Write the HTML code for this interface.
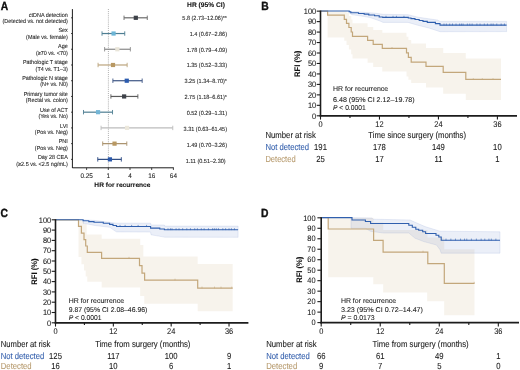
<!DOCTYPE html>
<html><head><meta charset="utf-8"><style>
html,body{margin:0;padding:0;background:#fff;}
svg{display:block;will-change:transform;text-rendering:geometricPrecision;font-family:"Liberation Sans", sans-serif;}
</style></head><body>
<svg width="520" height="370" viewBox="0 0 520 370">
<rect width="520" height="370" fill="#fff"/>
<text transform="translate(0.70,9.50) scale(1.0000,1.1500)" font-size="10.3" font-weight="bold" fill="#111" stroke="#111" stroke-width="0.350" >A</text>
<text transform="translate(261.20,9.70) scale(1.0000,1.1500)" font-size="10.3" font-weight="bold" fill="#111" stroke="#111" stroke-width="0.350" >B</text>
<text transform="translate(0.60,216.90) scale(1.0000,1.1500)" font-size="10.3" font-weight="bold" fill="#111" stroke="#111" stroke-width="0.350" >C</text>
<text transform="translate(261.10,216.90) scale(1.0000,1.1500)" font-size="10.3" font-weight="bold" fill="#111" stroke="#111" stroke-width="0.350" >D</text>
<line x1="108.4" y1="9.0" x2="108.4" y2="167.5" stroke="#9a9a9a" stroke-width="0.8" stroke-dasharray="1,1.1"/>
<line x1="72.4" y1="9.1" x2="72.4" y2="168.0" stroke="#1c1c1c" stroke-width="1" />
<line x1="72.4" y1="167.8" x2="173.8" y2="167.8" stroke="#1c1c1c" stroke-width="1" />
<line x1="86.6" y1="167.8" x2="86.6" y2="170" stroke="#1c1c1c" stroke-width="0.8" />
<text transform="translate(86.60,177.90) scale(1.0000,1.0500)" font-size="6.4" text-anchor="middle" fill="#222" stroke="#222" stroke-width="0.080" >0.25</text>
<line x1="108.3" y1="167.8" x2="108.3" y2="170" stroke="#1c1c1c" stroke-width="0.8" />
<text transform="translate(108.30,177.90) scale(1.0000,1.0500)" font-size="6.4" text-anchor="middle" fill="#222" stroke="#222" stroke-width="0.080" >1</text>
<line x1="130.0" y1="167.8" x2="130.0" y2="170" stroke="#1c1c1c" stroke-width="0.8" />
<text transform="translate(130.00,177.90) scale(1.0000,1.0500)" font-size="6.4" text-anchor="middle" fill="#222" stroke="#222" stroke-width="0.080" >4</text>
<line x1="151.7" y1="167.8" x2="151.7" y2="170" stroke="#1c1c1c" stroke-width="0.8" />
<text transform="translate(151.70,177.90) scale(1.0000,1.0500)" font-size="6.4" text-anchor="middle" fill="#222" stroke="#222" stroke-width="0.080" >16</text>
<line x1="173.39999999999998" y1="167.8" x2="173.39999999999998" y2="170" stroke="#1c1c1c" stroke-width="0.8" />
<text transform="translate(173.40,177.90) scale(1.0000,1.0500)" font-size="6.4" text-anchor="middle" fill="#222" stroke="#222" stroke-width="0.080" >64</text>
<text transform="translate(122.40,186.80) scale(1.0000,1.0000)" font-size="6.6" text-anchor="middle" font-weight="bold" fill="#111" stroke="#111" stroke-width="0.080" >HR for recurrence</text>
<text transform="translate(206.00,7.40) scale(1.0000,1.0000)" font-size="6.7" text-anchor="middle" font-weight="bold" fill="#111" stroke="#111" stroke-width="0.080" >HR (95% CI)</text>
<line x1="71.0" y1="17.8" x2="72.4" y2="17.8" stroke="#1c1c1c" stroke-width="0.8" />
<text transform="translate(67.80,16.50) scale(1.0000,1.0800)" font-size="5.45" text-anchor="end" fill="#222" stroke="#222" stroke-width="0.080" >ctDNA detection</text>
<text transform="translate(67.80,22.90) scale(1.0000,1.0800)" font-size="5.45" text-anchor="end" fill="#222" stroke="#222" stroke-width="0.080" >(Detected vs. not detected)</text>
<line x1="124.02057531992463" y1="17.8" x2="147.27491432306016" y2="17.8" stroke="#6a6a6a" stroke-width="1.2" />
<line x1="124.02057531992463" y1="15.600000000000001" x2="124.02057531992463" y2="20.0" stroke="#6a6a6a" stroke-width="0.9" />
<line x1="147.27491432306016" y1="15.600000000000001" x2="147.27491432306016" y2="20.0" stroke="#6a6a6a" stroke-width="0.9" />
<rect x="133.72" y="15.70" width="4.2" height="4.2" fill="#3e4249"/>
<text transform="translate(227.00,19.85) scale(1.0000,1.0800)" font-size="5.5" text-anchor="end" fill="#222" stroke="#222" stroke-width="0.080" >5.8 (2.73–12.06)**</text>
<line x1="71.0" y1="33.53" x2="72.4" y2="33.53" stroke="#1c1c1c" stroke-width="0.8" />
<text transform="translate(67.80,32.37) scale(1.0000,1.0800)" font-size="5.45" text-anchor="end" fill="#222" stroke="#222" stroke-width="0.080" >Sex</text>
<text transform="translate(67.80,38.77) scale(1.0000,1.0800)" font-size="5.45" text-anchor="end" fill="#222" stroke="#222" stroke-width="0.080" >(Male vs. female)</text>
<line x1="102.03122805741107" y1="33.53" x2="124.74876434498975" y2="33.53" stroke="#4e7e92" stroke-width="1.2" />
<line x1="102.03122805741107" y1="31.330000000000002" x2="102.03122805741107" y2="35.730000000000004" stroke="#4e7e92" stroke-width="0.9" />
<line x1="124.74876434498975" y1="31.330000000000002" x2="124.74876434498975" y2="35.730000000000004" stroke="#4e7e92" stroke-width="0.9" />
<rect x="111.47" y="31.43" width="4.2" height="4.2" fill="#6cb5d6"/>
<text transform="translate(227.00,35.73) scale(1.0000,1.0800)" font-size="5.5" text-anchor="end" fill="#222" stroke="#222" stroke-width="0.080" >1.4 (0.67–2.86)</text>
<line x1="71.0" y1="49.260000000000005" x2="72.4" y2="49.260000000000005" stroke="#1c1c1c" stroke-width="0.8" />
<text transform="translate(67.80,48.24) scale(1.0000,1.0800)" font-size="5.45" text-anchor="end" fill="#222" stroke="#222" stroke-width="0.080" >Age</text>
<text transform="translate(67.80,54.64) scale(1.0000,1.0800)" font-size="5.45" text-anchor="end" fill="#222" stroke="#222" stroke-width="0.080" >(≥70 vs. &lt;70)</text>
<line x1="104.6101814586658" y1="49.260000000000005" x2="130.3482941483622" y2="49.260000000000005" stroke="#8a8a8a" stroke-width="1.2" />
<line x1="104.6101814586658" y1="47.06" x2="104.6101814586658" y2="51.46000000000001" stroke="#8a8a8a" stroke-width="0.9" />
<line x1="130.3482941483622" y1="47.06" x2="130.3482941483622" y2="51.46000000000001" stroke="#8a8a8a" stroke-width="0.9" />
<rect x="115.23" y="47.16" width="4.2" height="4.2" fill="#e9e5d9"/>
<text transform="translate(227.00,51.61) scale(1.0000,1.0800)" font-size="5.5" text-anchor="end" fill="#222" stroke="#222" stroke-width="0.080" >1.78 (0.79–4.09)</text>
<line x1="71.0" y1="64.99" x2="72.4" y2="64.99" stroke="#1c1c1c" stroke-width="0.8" />
<text transform="translate(67.80,64.11) scale(1.0000,1.0800)" font-size="5.45" text-anchor="end" fill="#222" stroke="#222" stroke-width="0.080" >Pathologic T stage</text>
<text transform="translate(67.80,70.51) scale(1.0000,1.0800)" font-size="5.45" text-anchor="end" fill="#222" stroke="#222" stroke-width="0.080" >(T4 vs. T1–3)</text>
<line x1="98.06393128277509" y1="64.99" x2="127.13041562366743" y2="64.99" stroke="#bba47c" stroke-width="1.2" />
<line x1="98.06393128277509" y1="62.78999999999999" x2="98.06393128277509" y2="67.19" stroke="#bba47c" stroke-width="0.9" />
<line x1="127.13041562366743" y1="62.78999999999999" x2="127.13041562366743" y2="67.19" stroke="#bba47c" stroke-width="0.9" />
<rect x="110.90" y="62.89" width="4.2" height="4.2" fill="#b89862"/>
<text transform="translate(227.00,67.49) scale(1.0000,1.0800)" font-size="5.5" text-anchor="end" fill="#222" stroke="#222" stroke-width="0.080" >1.35 (0.52–3.33)</text>
<line x1="71.0" y1="80.72" x2="72.4" y2="80.72" stroke="#1c1c1c" stroke-width="0.8" />
<text transform="translate(67.80,79.98) scale(1.0000,1.0800)" font-size="5.45" text-anchor="end" fill="#222" stroke="#222" stroke-width="0.080" >Pathologic N stage</text>
<text transform="translate(67.80,86.38) scale(1.0000,1.0800)" font-size="5.45" text-anchor="end" fill="#222" stroke="#222" stroke-width="0.080" >(N+ vs. N0)</text>
<line x1="112.88122805741106" y1="80.72" x2="142.1630171004308" y2="80.72" stroke="#3e5684" stroke-width="1.2" />
<line x1="112.88122805741106" y1="78.52" x2="112.88122805741106" y2="82.92" stroke="#3e5684" stroke-width="0.9" />
<line x1="142.1630171004308" y1="78.52" x2="142.1630171004308" y2="82.92" stroke="#3e5684" stroke-width="0.9" />
<rect x="124.65" y="78.62" width="4.2" height="4.2" fill="#2c5caf"/>
<text transform="translate(227.00,83.37) scale(1.0000,1.0800)" font-size="5.5" text-anchor="end" fill="#222" stroke="#222" stroke-width="0.080" >3.25 (1.34–8.70)*</text>
<line x1="71.0" y1="96.45" x2="72.4" y2="96.45" stroke="#1c1c1c" stroke-width="0.8" />
<text transform="translate(67.80,95.85) scale(1.0000,1.0800)" font-size="5.45" text-anchor="end" fill="#222" stroke="#222" stroke-width="0.080" >Primary tumor site</text>
<text transform="translate(67.80,102.25) scale(1.0000,1.0800)" font-size="5.45" text-anchor="end" fill="#222" stroke="#222" stroke-width="0.080" >(Rectal vs. colon)</text>
<line x1="110.8908374265202" y1="96.45" x2="137.86245544830268" y2="96.45" stroke="#5a5a5a" stroke-width="1.2" />
<line x1="110.8908374265202" y1="94.25" x2="110.8908374265202" y2="98.65" stroke="#5a5a5a" stroke-width="0.9" />
<line x1="137.86245544830268" y1="94.25" x2="137.86245544830268" y2="98.65" stroke="#5a5a5a" stroke-width="0.9" />
<rect x="122.03" y="94.35" width="4.2" height="4.2" fill="#3e4249"/>
<text transform="translate(227.00,99.25) scale(1.0000,1.0800)" font-size="5.5" text-anchor="end" fill="#222" stroke="#222" stroke-width="0.080" >2.75 (1.18–6.61)*</text>
<line x1="71.0" y1="112.17999999999999" x2="72.4" y2="112.17999999999999" stroke="#1c1c1c" stroke-width="0.8" />
<text transform="translate(67.80,111.72) scale(1.0000,1.0800)" font-size="5.45" text-anchor="end" fill="#222" stroke="#222" stroke-width="0.080" >Use of ACT</text>
<text transform="translate(67.80,118.12) scale(1.0000,1.0800)" font-size="5.45" text-anchor="end" fill="#222" stroke="#222" stroke-width="0.080" >(Yes vs. No)</text>
<line x1="83.49359959105044" y1="112.17999999999999" x2="112.52679990762557" y2="112.17999999999999" stroke="#4e7e92" stroke-width="1.2" />
<line x1="83.49359959105044" y1="109.97999999999999" x2="83.49359959105044" y2="114.38" stroke="#4e7e92" stroke-width="0.9" />
<line x1="112.52679990762557" y1="109.97999999999999" x2="112.52679990762557" y2="114.38" stroke="#4e7e92" stroke-width="0.9" />
<rect x="95.96" y="110.08" width="4.2" height="4.2" fill="#74b6d6"/>
<text transform="translate(227.00,115.13) scale(1.0000,1.0800)" font-size="5.5" text-anchor="end" fill="#222" stroke="#222" stroke-width="0.080" >0.52 (0.29–1.31)</text>
<line x1="71.0" y1="127.91" x2="72.4" y2="127.91" stroke="#1c1c1c" stroke-width="0.8" />
<text transform="translate(67.80,127.59) scale(1.0000,1.0800)" font-size="5.45" text-anchor="end" fill="#222" stroke="#222" stroke-width="0.080" >LVI</text>
<text transform="translate(67.80,133.99) scale(1.0000,1.0800)" font-size="5.45" text-anchor="end" fill="#222" stroke="#222" stroke-width="0.080" >(Pos vs. Neg)</text>
<line x1="101.06764751091833" y1="127.91" x2="172.76355099451547" y2="127.91" stroke="#bcbcbc" stroke-width="1.2" />
<line x1="101.06764751091833" y1="125.71" x2="101.06764751091833" y2="130.10999999999999" stroke="#bcbcbc" stroke-width="0.9" />
<line x1="172.76355099451547" y1="125.71" x2="172.76355099451547" y2="130.10999999999999" stroke="#bcbcbc" stroke-width="0.9" />
<rect x="124.94" y="125.81" width="4.2" height="4.2" fill="#ece8dc"/>
<text transform="translate(227.00,131.01) scale(1.0000,1.0800)" font-size="5.5" text-anchor="end" fill="#222" stroke="#222" stroke-width="0.080" >3.31 (0.63–61.45)</text>
<line x1="71.0" y1="143.64000000000001" x2="72.4" y2="143.64000000000001" stroke="#1c1c1c" stroke-width="0.8" />
<text transform="translate(67.80,143.46) scale(1.0000,1.0800)" font-size="5.45" text-anchor="end" fill="#222" stroke="#222" stroke-width="0.080" >PNI</text>
<text transform="translate(67.80,149.86) scale(1.0000,1.0800)" font-size="5.45" text-anchor="end" fill="#222" stroke="#222" stroke-width="0.080" >(Pos vs. Neg)</text>
<line x1="102.71688107479712" y1="143.64000000000001" x2="126.79786081435142" y2="143.64000000000001" stroke="#a8906a" stroke-width="1.2" />
<line x1="102.71688107479712" y1="141.44000000000003" x2="102.71688107479712" y2="145.84" stroke="#a8906a" stroke-width="0.9" />
<line x1="126.79786081435142" y1="141.44000000000003" x2="126.79786081435142" y2="145.84" stroke="#a8906a" stroke-width="0.9" />
<rect x="112.44" y="141.54" width="4.2" height="4.2" fill="#b89862"/>
<text transform="translate(227.00,146.89) scale(1.0000,1.0800)" font-size="5.5" text-anchor="end" fill="#222" stroke="#222" stroke-width="0.080" >1.49 (0.70–3.26)</text>
<line x1="71.0" y1="159.37" x2="72.4" y2="159.37" stroke="#1c1c1c" stroke-width="0.8" />
<text transform="translate(67.80,159.33) scale(1.0000,1.0800)" font-size="5.45" text-anchor="end" fill="#222" stroke="#222" stroke-width="0.080" >Day 28 CEA</text>
<text transform="translate(67.80,165.73) scale(1.0000,1.0800)" font-size="5.45" text-anchor="end" fill="#222" stroke="#222" stroke-width="0.080" >(≥2.5 vs. &lt;2.5 ng/mL)</text>
<line x1="97.75997530133496" y1="159.37" x2="121.3377273936907" y2="159.37" stroke="#2c4a82" stroke-width="1.2" />
<line x1="97.75997530133496" y1="157.17000000000002" x2="97.75997530133496" y2="161.57" stroke="#2c4a82" stroke-width="0.9" />
<line x1="121.3377273936907" y1="157.17000000000002" x2="121.3377273936907" y2="161.57" stroke="#2c4a82" stroke-width="0.9" />
<rect x="107.83" y="157.27" width="4.2" height="4.2" fill="#2a58aa"/>
<text transform="translate(225.60,162.77) scale(1.0000,1.0800)" font-size="5.5" text-anchor="end" fill="#222" stroke="#222" stroke-width="0.080" >1.11 (0.51–2.30)</text>
<path d="M327.6,11.15 H344.3 V11.15 H346.5 V12.5 H348.9 V16 H351.2 V19.5 H352.5 V23.2 H367.6 V27.0 H373.2 V30.0 H382.3 V32.8 H406.5 V36.8 H408.4 V40.0 H411.2 V43.5 H426.0 V48.0 H443.2 V53.0 H465.8 V58.4 H501.0 V58.4 H501.0 V100.0 L501.0,100.0 L501.0,100.0 L501.0,100.0 L465.8,100.0 L465.8,93.8 L443.2,93.8 L443.2,87.5 L426.0,87.5 L426.0,83.1 L411.2,83.1 L411.2,79.7 L408.4,79.7 L408.4,76.4 L406.5,76.4 L406.5,71.6 L382.3,71.6 L382.3,66.9 L373.2,66.9 L373.2,62.8 L367.6,62.8 L367.6,58.6 L352.5,58.6 L352.5,54.3 L351.2,54.3 L351.2,49.6 L348.9,49.6 L348.9,44.9 L346.5,44.9 L346.5,40.8 L344.3,40.8 L344.3,37.4 L327.6,37.4 Z" stroke="none" fill="rgba(214,196,160,0.20)" stroke-width="1" />
<path d="M349,11.0 L352,11.5 L360,12.0 L375,13.2 L383,14.3 L408,14.7 L418,17.2 L437.7,20.1 L440,21.4 L506.6,21.4 L506.6,31.6 L440,31.7 L429.6,28.2 L418,25.3 L408,22.4 L383,22.4 L380,21.0 L370,17.5 L360,15.8 L352,14.7 L349,12.7 Z" stroke="rgba(110,140,205,0.22)" fill="rgba(120,150,210,0.15)" stroke-width="0.7" />
<path d="M320.5,11.15 H327.6 V15.2 H344.3 V19.3 H346.5 V23.4 H348.9 V27.5 H351.2 V32.0 H352.5 V36.3 H367.6 V40.4 H373.2 V44.3 H382.3 V48.3 H406.5 V52.8 H408.4 V57.3 H411.2 V62.2 H426.0 V66.3 H443.2 V72.4 H465.8 V79.4 H501.0 V79.4" stroke="#c3a77b" fill="none" stroke-width="1.2" />
<path d="M320.5,11.0 H349.2 V11.8 H350.8 V12.7 H358.5 V13.5 H364.2 V14.1 H368.8 V15.0 H374.6 V15.8 H379.2 V17.0 H382.7 V17.4 H408.3 V18.0 H411 V18.6 H415 V19.5 H419.2 V20.5 H423 V21.4 H427.3 V22.4 H435.4 V23.6 H440 V25.1 H506.6 V25.1" stroke="#2f5fae" fill="none" stroke-width="1.1" />
<line x1="444" y1="23.5" x2="444" y2="25.4" stroke="#2f5fae" stroke-width="0.6" />
<line x1="446.36" y1="23.5" x2="446.36" y2="25.4" stroke="#2f5fae" stroke-width="0.6" />
<line x1="449.7" y1="23.5" x2="449.7" y2="25.4" stroke="#2f5fae" stroke-width="0.6" />
<line x1="452.49" y1="23.5" x2="452.49" y2="25.4" stroke="#2f5fae" stroke-width="0.6" />
<line x1="456.02" y1="23.5" x2="456.02" y2="25.4" stroke="#2f5fae" stroke-width="0.6" />
<line x1="459.62" y1="23.5" x2="459.62" y2="25.4" stroke="#2f5fae" stroke-width="0.6" />
<line x1="461.43" y1="23.5" x2="461.43" y2="25.4" stroke="#2f5fae" stroke-width="0.6" />
<line x1="463.07" y1="23.5" x2="463.07" y2="25.4" stroke="#2f5fae" stroke-width="0.6" />
<line x1="467.35" y1="23.5" x2="467.35" y2="25.4" stroke="#2f5fae" stroke-width="0.6" />
<line x1="469.78" y1="23.5" x2="469.78" y2="25.4" stroke="#2f5fae" stroke-width="0.6" />
<line x1="472.13" y1="23.5" x2="472.13" y2="25.4" stroke="#2f5fae" stroke-width="0.6" />
<line x1="476.92" y1="23.5" x2="476.92" y2="25.4" stroke="#2f5fae" stroke-width="0.6" />
<line x1="480.02" y1="23.5" x2="480.02" y2="25.4" stroke="#2f5fae" stroke-width="0.6" />
<line x1="484.3" y1="23.5" x2="484.3" y2="25.4" stroke="#2f5fae" stroke-width="0.6" />
<line x1="487.43" y1="23.5" x2="487.43" y2="25.4" stroke="#2f5fae" stroke-width="0.6" />
<line x1="491.07" y1="23.5" x2="491.07" y2="25.4" stroke="#2f5fae" stroke-width="0.6" />
<line x1="493.15" y1="23.5" x2="493.15" y2="25.4" stroke="#2f5fae" stroke-width="0.6" />
<line x1="496.78" y1="23.5" x2="496.78" y2="25.4" stroke="#2f5fae" stroke-width="0.6" />
<line x1="501.16" y1="23.5" x2="501.16" y2="25.4" stroke="#2f5fae" stroke-width="0.6" />
<line x1="504.44" y1="23.5" x2="504.44" y2="25.4" stroke="#2f5fae" stroke-width="0.6" />
<line x1="386" y1="15.8" x2="386" y2="17.7" stroke="#2f5fae" stroke-width="0.6" />
<line x1="393.03" y1="15.8" x2="393.03" y2="17.7" stroke="#2f5fae" stroke-width="0.6" />
<line x1="396.41" y1="15.8" x2="396.41" y2="17.7" stroke="#2f5fae" stroke-width="0.6" />
<line x1="403.96" y1="15.8" x2="403.96" y2="17.7" stroke="#2f5fae" stroke-width="0.6" />
<line x1="392.0" y1="47.0" x2="392.0" y2="48.5" stroke="#c3a77b" stroke-width="0.55" />
<line x1="473.3" y1="78.2" x2="473.3" y2="79.6" stroke="#c3a77b" stroke-width="0.55" />
<line x1="482.3" y1="78.2" x2="482.3" y2="79.6" stroke="#c3a77b" stroke-width="0.55" />
<line x1="493" y1="78.2" x2="493" y2="79.6" stroke="#c3a77b" stroke-width="0.55" />
<line x1="316.7" y1="115.8" x2="320.5" y2="115.8" stroke="#1c1c1c" stroke-width="1.1" />
<text transform="translate(316.20,118.50) scale(1.0000,1.0800)" font-size="7.4" text-anchor="end" fill="#1a1a1a" stroke="#1a1a1a" stroke-width="0.080" >0</text>
<line x1="316.7" y1="105.33" x2="320.5" y2="105.33" stroke="#1c1c1c" stroke-width="1.1" />
<text transform="translate(316.20,108.03) scale(1.0000,1.0800)" font-size="7.4" text-anchor="end" fill="#1a1a1a" stroke="#1a1a1a" stroke-width="0.080" >10</text>
<line x1="316.7" y1="94.87" x2="320.5" y2="94.87" stroke="#1c1c1c" stroke-width="1.1" />
<text transform="translate(316.20,97.57) scale(1.0000,1.0800)" font-size="7.4" text-anchor="end" fill="#1a1a1a" stroke="#1a1a1a" stroke-width="0.080" >20</text>
<line x1="316.7" y1="84.41" x2="320.5" y2="84.41" stroke="#1c1c1c" stroke-width="1.1" />
<text transform="translate(316.20,87.11) scale(1.0000,1.0800)" font-size="7.4" text-anchor="end" fill="#1a1a1a" stroke="#1a1a1a" stroke-width="0.080" >30</text>
<line x1="316.7" y1="73.94" x2="320.5" y2="73.94" stroke="#1c1c1c" stroke-width="1.1" />
<text transform="translate(316.20,76.64) scale(1.0000,1.0800)" font-size="7.4" text-anchor="end" fill="#1a1a1a" stroke="#1a1a1a" stroke-width="0.080" >40</text>
<line x1="316.7" y1="63.47" x2="320.5" y2="63.47" stroke="#1c1c1c" stroke-width="1.1" />
<text transform="translate(316.20,66.17) scale(1.0000,1.0800)" font-size="7.4" text-anchor="end" fill="#1a1a1a" stroke="#1a1a1a" stroke-width="0.080" >50</text>
<line x1="316.7" y1="53.01" x2="320.5" y2="53.01" stroke="#1c1c1c" stroke-width="1.1" />
<text transform="translate(316.20,55.71) scale(1.0000,1.0800)" font-size="7.4" text-anchor="end" fill="#1a1a1a" stroke="#1a1a1a" stroke-width="0.080" >60</text>
<line x1="316.7" y1="42.55" x2="320.5" y2="42.55" stroke="#1c1c1c" stroke-width="1.1" />
<text transform="translate(316.20,45.25) scale(1.0000,1.0800)" font-size="7.4" text-anchor="end" fill="#1a1a1a" stroke="#1a1a1a" stroke-width="0.080" >70</text>
<line x1="316.7" y1="32.08" x2="320.5" y2="32.08" stroke="#1c1c1c" stroke-width="1.1" />
<text transform="translate(316.20,34.78) scale(1.0000,1.0800)" font-size="7.4" text-anchor="end" fill="#1a1a1a" stroke="#1a1a1a" stroke-width="0.080" >80</text>
<line x1="316.7" y1="21.61" x2="320.5" y2="21.61" stroke="#1c1c1c" stroke-width="1.1" />
<text transform="translate(316.20,24.31) scale(1.0000,1.0800)" font-size="7.4" text-anchor="end" fill="#1a1a1a" stroke="#1a1a1a" stroke-width="0.080" >90</text>
<line x1="316.7" y1="11.15" x2="320.5" y2="11.15" stroke="#1c1c1c" stroke-width="1.1" />
<text transform="translate(316.20,13.85) scale(1.0000,1.0800)" font-size="7.4" text-anchor="end" fill="#1a1a1a" stroke="#1a1a1a" stroke-width="0.080" >100</text>
<line x1="320.5" y1="10.55" x2="320.5" y2="116.6" stroke="#1c1c1c" stroke-width="1.6" />
<line x1="319.7" y1="115.8" x2="517.0" y2="115.8" stroke="#1c1c1c" stroke-width="1.7" />
<line x1="320.5" y1="115.8" x2="320.5" y2="119.6" stroke="#1c1c1c" stroke-width="1.1" />
<text transform="translate(320.50,126.90) scale(1.0000,1.1200)" font-size="7.4" text-anchor="middle" fill="#1a1a1a" stroke="#1a1a1a" stroke-width="0.080" >0</text>
<line x1="349.98" y1="115.8" x2="349.98" y2="118.1" stroke="#1c1c1c" stroke-width="1.1" />
<line x1="379.47" y1="115.8" x2="379.47" y2="119.6" stroke="#1c1c1c" stroke-width="1.1" />
<text transform="translate(379.47,126.90) scale(1.0000,1.1200)" font-size="7.4" text-anchor="middle" fill="#1a1a1a" stroke="#1a1a1a" stroke-width="0.080" >12</text>
<line x1="408.95" y1="115.8" x2="408.95" y2="118.1" stroke="#1c1c1c" stroke-width="1.1" />
<line x1="438.44" y1="115.8" x2="438.44" y2="119.6" stroke="#1c1c1c" stroke-width="1.1" />
<text transform="translate(438.44,126.90) scale(1.0000,1.1200)" font-size="7.4" text-anchor="middle" fill="#1a1a1a" stroke="#1a1a1a" stroke-width="0.080" >24</text>
<line x1="467.92" y1="115.8" x2="467.92" y2="118.1" stroke="#1c1c1c" stroke-width="1.1" />
<line x1="497.4" y1="115.8" x2="497.4" y2="119.6" stroke="#1c1c1c" stroke-width="1.1" />
<text transform="translate(497.40,126.90) scale(1.0000,1.1200)" font-size="7.4" text-anchor="middle" fill="#1a1a1a" stroke="#1a1a1a" stroke-width="0.080" >36</text>
<text transform="translate(300.40,63.80) rotate(-90) scale(1.0000,1.0600)" font-size="7.6" text-anchor="middle" font-weight="bold" fill="#111" stroke="#111" stroke-width="0.080" >RFI (%)</text>
<text transform="translate(417.20,137.90) scale(1.0000,1.1500)" font-size="7.7" text-anchor="middle" fill="#1a1a1a" stroke="#1a1a1a" stroke-width="0.080" textLength="97.7" lengthAdjust="spacingAndGlyphs" >Time since surgery (months)</text>
<text transform="translate(265.40,137.90) scale(1.0000,1.1500)" font-size="7.7" fill="#1a1a1a" stroke="#1a1a1a" stroke-width="0.080" textLength="50.4" lengthAdjust="spacingAndGlyphs" >Number at risk</text>
<text transform="translate(265.40,150.00) scale(1.0000,1.1500)" font-size="7.7" fill="#3560ad" stroke="#3560ad" stroke-width="0.080" textLength="43.6" lengthAdjust="spacingAndGlyphs" >Not detected</text>
<text transform="translate(265.40,162.10) scale(1.0000,1.1500)" font-size="7.7" fill="#b89c70" stroke="#b89c70" stroke-width="0.080" textLength="30.2" lengthAdjust="spacingAndGlyphs" >Detected</text>
<text transform="translate(320.50,150.00) scale(1.0000,1.1500)" font-size="7.7" text-anchor="middle" fill="#1a1a1a" stroke="#1a1a1a" stroke-width="0.080" >191</text>
<text transform="translate(320.50,162.10) scale(1.0000,1.1500)" font-size="7.7" text-anchor="middle" fill="#1a1a1a" stroke="#1a1a1a" stroke-width="0.080" >25</text>
<text transform="translate(379.47,150.00) scale(1.0000,1.1500)" font-size="7.7" text-anchor="middle" fill="#1a1a1a" stroke="#1a1a1a" stroke-width="0.080" >178</text>
<text transform="translate(379.47,162.10) scale(1.0000,1.1500)" font-size="7.7" text-anchor="middle" fill="#1a1a1a" stroke="#1a1a1a" stroke-width="0.080" >17</text>
<text transform="translate(438.44,150.00) scale(1.0000,1.1500)" font-size="7.7" text-anchor="middle" fill="#1a1a1a" stroke="#1a1a1a" stroke-width="0.080" >149</text>
<text transform="translate(438.44,162.10) scale(1.0000,1.1500)" font-size="7.7" text-anchor="middle" fill="#1a1a1a" stroke="#1a1a1a" stroke-width="0.080" >11</text>
<text transform="translate(497.40,150.00) scale(1.0000,1.1500)" font-size="7.7" text-anchor="middle" fill="#1a1a1a" stroke="#1a1a1a" stroke-width="0.080" >10</text>
<text transform="translate(497.40,162.10) scale(1.0000,1.1500)" font-size="7.7" text-anchor="middle" fill="#1a1a1a" stroke="#1a1a1a" stroke-width="0.080" >1</text>
<text transform="translate(333.00,91.40) scale(1.0000,1.0300)" font-size="6.8" fill="#1a1a1a" stroke="#1a1a1a" stroke-width="0.080" textLength="55.2" lengthAdjust="spacingAndGlyphs" >HR for recurrence</text>
<text transform="translate(333.00,101.50) scale(1.0000,1.0300)" font-size="6.8" fill="#1a1a1a" stroke="#1a1a1a" stroke-width="0.080" textLength="81.7" lengthAdjust="spacingAndGlyphs" >6.48 (95% CI 2.12–19.78)</text>
<text transform="translate(333.00,110.20) scale(1.0000,1.0300)" font-size="6.8" fill="#1a1a1a" stroke="#1a1a1a" stroke-width="0.080" textLength="32.7" lengthAdjust="spacingAndGlyphs" ><tspan font-style="italic">P</tspan> &lt; 0.0001</text>
<path d="M78.5,219.8 H81.4 V220.5 H84.0 V224 H86.7 V234.5 H101.7 V238.8 H140.2 V245.1 H143.3 V256.5 H197.7 V263.9 H232.7 V263.9 H232.7 V311.2 L232.7,311.2 L232.7,311.2 L232.7,311.2 L197.7,311.2 L197.7,303.8 L144.3,303.8 L144.3,296.0 L140.2,296.0 L140.2,287.5 L101.7,287.5 L101.7,281.7 L87.3,281.7 L87.3,276.6 L85.7,276.6 L85.7,270.4 L84.0,270.4 L84.0,264.3 L81.4,264.3 L81.4,257.0 L78.5,257.0 Z" stroke="none" fill="rgba(214,196,160,0.20)" stroke-width="1" />
<path d="M83.1,219.8 L95,220.5 L116.5,223.2 L150.6,223.2 L151,225.0 L164.4,225.0 L164.6,226.1 L238.1,226.1 L238.1,237.3 L164.6,237.2 L164.4,237.1 L151,234.8 L150.6,232.0 L116.5,231.9 L113,229.6 L110,227.3 L95,225.5 L83.1,223.2 Z" stroke="rgba(110,140,205,0.22)" fill="rgba(120,150,210,0.15)" stroke-width="0.7" />
<path d="M55.5,219.8 H78.5 V226.3 H81.4 V233.1 H84.0 V239.6 H85.7 V246.0 H87.3 V252.3 H101.6 V258.4 H139.5 V265.6 H142.0 V273.2 H144.6 V280.2 H197.7 V288.1 H232.7 V288.1" stroke="#c3a77b" fill="none" stroke-width="1.2" />
<path d="M55.5,219.8 H83.1 V220.7 H88.8 V221.6 H94 V222.3 H103.3 V223.2 H109.6 V224.4 H113 V225.5 H116.5 V226.5 H150.6 V228.1 H159.8 V229.0 H164.4 V229.8 H238.1 V229.8" stroke="#2f5fae" fill="none" stroke-width="1.1" />
<line x1="168" y1="228.2" x2="168" y2="230.1" stroke="#2f5fae" stroke-width="0.6" />
<line x1="170.4" y1="228.2" x2="170.4" y2="230.1" stroke="#2f5fae" stroke-width="0.6" />
<line x1="172.0" y1="228.2" x2="172.0" y2="230.1" stroke="#2f5fae" stroke-width="0.6" />
<line x1="176.09" y1="228.2" x2="176.09" y2="230.1" stroke="#2f5fae" stroke-width="0.6" />
<line x1="179.01" y1="228.2" x2="179.01" y2="230.1" stroke="#2f5fae" stroke-width="0.6" />
<line x1="182.67" y1="228.2" x2="182.67" y2="230.1" stroke="#2f5fae" stroke-width="0.6" />
<line x1="186.8" y1="228.2" x2="186.8" y2="230.1" stroke="#2f5fae" stroke-width="0.6" />
<line x1="190.45" y1="228.2" x2="190.45" y2="230.1" stroke="#2f5fae" stroke-width="0.6" />
<line x1="194.71" y1="228.2" x2="194.71" y2="230.1" stroke="#2f5fae" stroke-width="0.6" />
<line x1="197.4" y1="228.2" x2="197.4" y2="230.1" stroke="#2f5fae" stroke-width="0.6" />
<line x1="201.3" y1="228.2" x2="201.3" y2="230.1" stroke="#2f5fae" stroke-width="0.6" />
<line x1="204.13" y1="228.2" x2="204.13" y2="230.1" stroke="#2f5fae" stroke-width="0.6" />
<line x1="208.44" y1="228.2" x2="208.44" y2="230.1" stroke="#2f5fae" stroke-width="0.6" />
<line x1="212.58" y1="228.2" x2="212.58" y2="230.1" stroke="#2f5fae" stroke-width="0.6" />
<line x1="214.37" y1="228.2" x2="214.37" y2="230.1" stroke="#2f5fae" stroke-width="0.6" />
<line x1="216.28" y1="228.2" x2="216.28" y2="230.1" stroke="#2f5fae" stroke-width="0.6" />
<line x1="218.43" y1="228.2" x2="218.43" y2="230.1" stroke="#2f5fae" stroke-width="0.6" />
<line x1="222.82" y1="228.2" x2="222.82" y2="230.1" stroke="#2f5fae" stroke-width="0.6" />
<line x1="225.63" y1="228.2" x2="225.63" y2="230.1" stroke="#2f5fae" stroke-width="0.6" />
<line x1="229.01" y1="228.2" x2="229.01" y2="230.1" stroke="#2f5fae" stroke-width="0.6" />
<line x1="231.41" y1="228.2" x2="231.41" y2="230.1" stroke="#2f5fae" stroke-width="0.6" />
<line x1="234.44" y1="228.2" x2="234.44" y2="230.1" stroke="#2f5fae" stroke-width="0.6" />
<line x1="120" y1="224.9" x2="120" y2="226.8" stroke="#2f5fae" stroke-width="0.6" />
<line x1="125.11" y1="224.9" x2="125.11" y2="226.8" stroke="#2f5fae" stroke-width="0.6" />
<line x1="131.62" y1="224.9" x2="131.62" y2="226.8" stroke="#2f5fae" stroke-width="0.6" />
<line x1="138.12" y1="224.9" x2="138.12" y2="226.8" stroke="#2f5fae" stroke-width="0.6" />
<line x1="146.55" y1="224.9" x2="146.55" y2="226.8" stroke="#2f5fae" stroke-width="0.6" />
<line x1="129.0" y1="256.9" x2="129.0" y2="258.59999999999997" stroke="#c3a77b" stroke-width="0.55" />
<line x1="175.0" y1="278.7" x2="175.0" y2="280.4" stroke="#c3a77b" stroke-width="0.55" />
<line x1="202.0" y1="286.6" x2="202.0" y2="288.3" stroke="#c3a77b" stroke-width="0.55" />
<line x1="214.5" y1="286.6" x2="214.5" y2="288.3" stroke="#c3a77b" stroke-width="0.55" />
<line x1="221.0" y1="286.6" x2="221.0" y2="288.3" stroke="#c3a77b" stroke-width="0.55" />
<line x1="231.8" y1="286.6" x2="231.8" y2="288.3" stroke="#c3a77b" stroke-width="0.55" />
<line x1="51.7" y1="322.8" x2="55.5" y2="322.8" stroke="#1c1c1c" stroke-width="1.1" />
<text transform="translate(51.20,325.50) scale(1.0000,1.0800)" font-size="7.4" text-anchor="end" fill="#1a1a1a" stroke="#1a1a1a" stroke-width="0.080" >0</text>
<line x1="51.7" y1="312.5" x2="55.5" y2="312.5" stroke="#1c1c1c" stroke-width="1.1" />
<text transform="translate(51.20,315.20) scale(1.0000,1.0800)" font-size="7.4" text-anchor="end" fill="#1a1a1a" stroke="#1a1a1a" stroke-width="0.080" >10</text>
<line x1="51.7" y1="302.2" x2="55.5" y2="302.2" stroke="#1c1c1c" stroke-width="1.1" />
<text transform="translate(51.20,304.90) scale(1.0000,1.0800)" font-size="7.4" text-anchor="end" fill="#1a1a1a" stroke="#1a1a1a" stroke-width="0.080" >20</text>
<line x1="51.7" y1="291.9" x2="55.5" y2="291.9" stroke="#1c1c1c" stroke-width="1.1" />
<text transform="translate(51.20,294.60) scale(1.0000,1.0800)" font-size="7.4" text-anchor="end" fill="#1a1a1a" stroke="#1a1a1a" stroke-width="0.080" >30</text>
<line x1="51.7" y1="281.6" x2="55.5" y2="281.6" stroke="#1c1c1c" stroke-width="1.1" />
<text transform="translate(51.20,284.30) scale(1.0000,1.0800)" font-size="7.4" text-anchor="end" fill="#1a1a1a" stroke="#1a1a1a" stroke-width="0.080" >40</text>
<line x1="51.7" y1="271.3" x2="55.5" y2="271.3" stroke="#1c1c1c" stroke-width="1.1" />
<text transform="translate(51.20,274.00) scale(1.0000,1.0800)" font-size="7.4" text-anchor="end" fill="#1a1a1a" stroke="#1a1a1a" stroke-width="0.080" >50</text>
<line x1="51.7" y1="261.0" x2="55.5" y2="261.0" stroke="#1c1c1c" stroke-width="1.1" />
<text transform="translate(51.20,263.70) scale(1.0000,1.0800)" font-size="7.4" text-anchor="end" fill="#1a1a1a" stroke="#1a1a1a" stroke-width="0.080" >60</text>
<line x1="51.7" y1="250.7" x2="55.5" y2="250.7" stroke="#1c1c1c" stroke-width="1.1" />
<text transform="translate(51.20,253.40) scale(1.0000,1.0800)" font-size="7.4" text-anchor="end" fill="#1a1a1a" stroke="#1a1a1a" stroke-width="0.080" >70</text>
<line x1="51.7" y1="240.4" x2="55.5" y2="240.4" stroke="#1c1c1c" stroke-width="1.1" />
<text transform="translate(51.20,243.10) scale(1.0000,1.0800)" font-size="7.4" text-anchor="end" fill="#1a1a1a" stroke="#1a1a1a" stroke-width="0.080" >80</text>
<line x1="51.7" y1="230.1" x2="55.5" y2="230.1" stroke="#1c1c1c" stroke-width="1.1" />
<text transform="translate(51.20,232.80) scale(1.0000,1.0800)" font-size="7.4" text-anchor="end" fill="#1a1a1a" stroke="#1a1a1a" stroke-width="0.080" >90</text>
<line x1="51.7" y1="219.8" x2="55.5" y2="219.8" stroke="#1c1c1c" stroke-width="1.1" />
<text transform="translate(51.20,222.50) scale(1.0000,1.0800)" font-size="7.4" text-anchor="end" fill="#1a1a1a" stroke="#1a1a1a" stroke-width="0.080" >100</text>
<line x1="55.5" y1="219.20000000000002" x2="55.5" y2="323.6" stroke="#1c1c1c" stroke-width="1.6" />
<line x1="54.7" y1="322.8" x2="248.4" y2="322.8" stroke="#1c1c1c" stroke-width="1.7" />
<line x1="55.5" y1="322.8" x2="55.5" y2="326.6" stroke="#1c1c1c" stroke-width="1.1" />
<text transform="translate(55.50,333.90) scale(1.0000,1.1200)" font-size="7.4" text-anchor="middle" fill="#1a1a1a" stroke="#1a1a1a" stroke-width="0.080" >0</text>
<line x1="84.42" y1="322.8" x2="84.42" y2="325.1" stroke="#1c1c1c" stroke-width="1.1" />
<line x1="113.34" y1="322.8" x2="113.34" y2="326.6" stroke="#1c1c1c" stroke-width="1.1" />
<text transform="translate(113.34,333.90) scale(1.0000,1.1200)" font-size="7.4" text-anchor="middle" fill="#1a1a1a" stroke="#1a1a1a" stroke-width="0.080" >12</text>
<line x1="142.26" y1="322.8" x2="142.26" y2="325.1" stroke="#1c1c1c" stroke-width="1.1" />
<line x1="171.18" y1="322.8" x2="171.18" y2="326.6" stroke="#1c1c1c" stroke-width="1.1" />
<text transform="translate(171.18,333.90) scale(1.0000,1.1200)" font-size="7.4" text-anchor="middle" fill="#1a1a1a" stroke="#1a1a1a" stroke-width="0.080" >24</text>
<line x1="200.1" y1="322.8" x2="200.1" y2="325.1" stroke="#1c1c1c" stroke-width="1.1" />
<line x1="229.02" y1="322.8" x2="229.02" y2="326.6" stroke="#1c1c1c" stroke-width="1.1" />
<text transform="translate(229.02,333.90) scale(1.0000,1.1200)" font-size="7.4" text-anchor="middle" fill="#1a1a1a" stroke="#1a1a1a" stroke-width="0.080" >36</text>
<text transform="translate(37.30,271.60) rotate(-90) scale(1.0000,1.0600)" font-size="7.6" text-anchor="middle" font-weight="bold" fill="#111" stroke="#111" stroke-width="0.080" >RFI (%)</text>
<text transform="translate(142.80,347.10) scale(1.0000,1.1500)" font-size="7.7" text-anchor="middle" fill="#1a1a1a" stroke="#1a1a1a" stroke-width="0.080" textLength="95.2" lengthAdjust="spacingAndGlyphs" >Time from surgery (months)</text>
<text transform="translate(0.80,347.10) scale(1.0000,1.1500)" font-size="7.7" fill="#1a1a1a" stroke="#1a1a1a" stroke-width="0.080" textLength="49.6" lengthAdjust="spacingAndGlyphs" >Number at risk</text>
<text transform="translate(0.80,358.50) scale(1.0000,1.1500)" font-size="7.7" fill="#3560ad" stroke="#3560ad" stroke-width="0.080" textLength="43.4" lengthAdjust="spacingAndGlyphs" >Not detected</text>
<text transform="translate(0.80,368.50) scale(1.0000,1.1500)" font-size="7.7" fill="#b89c70" stroke="#b89c70" stroke-width="0.080" textLength="30.8" lengthAdjust="spacingAndGlyphs" >Detected</text>
<text transform="translate(55.50,358.50) scale(1.0000,1.1500)" font-size="7.7" text-anchor="middle" fill="#1a1a1a" stroke="#1a1a1a" stroke-width="0.080" >125</text>
<text transform="translate(55.50,368.50) scale(1.0000,1.1500)" font-size="7.7" text-anchor="middle" fill="#1a1a1a" stroke="#1a1a1a" stroke-width="0.080" >16</text>
<text transform="translate(113.34,358.50) scale(1.0000,1.1500)" font-size="7.7" text-anchor="middle" fill="#1a1a1a" stroke="#1a1a1a" stroke-width="0.080" >117</text>
<text transform="translate(113.34,368.50) scale(1.0000,1.1500)" font-size="7.7" text-anchor="middle" fill="#1a1a1a" stroke="#1a1a1a" stroke-width="0.080" >10</text>
<text transform="translate(171.18,358.50) scale(1.0000,1.1500)" font-size="7.7" text-anchor="middle" fill="#1a1a1a" stroke="#1a1a1a" stroke-width="0.080" >100</text>
<text transform="translate(171.18,368.50) scale(1.0000,1.1500)" font-size="7.7" text-anchor="middle" fill="#1a1a1a" stroke="#1a1a1a" stroke-width="0.080" >6</text>
<text transform="translate(229.02,358.50) scale(1.0000,1.1500)" font-size="7.7" text-anchor="middle" fill="#1a1a1a" stroke="#1a1a1a" stroke-width="0.080" >9</text>
<text transform="translate(229.02,368.50) scale(1.0000,1.1500)" font-size="7.7" text-anchor="middle" fill="#1a1a1a" stroke="#1a1a1a" stroke-width="0.080" >1</text>
<text transform="translate(68.70,302.80) scale(1.0000,1.0300)" font-size="6.8" fill="#1a1a1a" stroke="#1a1a1a" stroke-width="0.080" textLength="55.3" lengthAdjust="spacingAndGlyphs" >HR for recurrence</text>
<text transform="translate(68.70,312.10) scale(1.0000,1.0300)" font-size="6.8" fill="#1a1a1a" stroke="#1a1a1a" stroke-width="0.080" textLength="78.6" lengthAdjust="spacingAndGlyphs" >9.87 (95% CI 2.08–46.96)</text>
<text transform="translate(68.70,320.10) scale(1.0000,1.0300)" font-size="6.8" fill="#1a1a1a" stroke="#1a1a1a" stroke-width="0.080" textLength="32.8" lengthAdjust="spacingAndGlyphs" ><tspan font-style="italic">P</tspan> &lt; 0.0001</text>
<path d="M328.2,217.8 H373.5 V222.5 H383.2 V230.0 H427.5 V237.5 H444.2 V249.3 H474.5 V249.3 H474.5 V315.2 L474.5,315.2 L474.5,315.2 L474.5,315.2 L444.2,315.2 L444.2,301.3 L427.2,301.3 L427.2,292.6 L383.2,292.6 L383.2,284.2 L373.3,284.2 L373.3,277.2 L328.2,277.2 Z" stroke="none" fill="rgba(214,196,160,0.20)" stroke-width="1" />
<path d="M351,217.8 L372,218.0 L373,219.2 L410,220.0 L425,226.6 L440,231.2 L500,231.8 L500,253.2 L441.2,253.2 L440,249.7 L436.5,245.0 L423.8,241.6 L415,238.2 L408.8,233.0 L383.3,233.0 L370.6,231.3 L365.4,228.4 L351,228.4 Z" stroke="rgba(110,140,205,0.22)" fill="rgba(120,150,210,0.15)" stroke-width="0.7" />
<path d="M321.2,217.7 H328.2 V229.0 H373.6 V240.3 H383.1 V252.2 H427.8 V263.7 H444.3 V283.3 H474.5 V283.3" stroke="#c3a77b" fill="none" stroke-width="1.2" />
<path d="M321.2,217.6 H352.0 V220.0 H365.4 V221.5 H370.6 V223.5 H408.8 V225.2 H412.3 V227.2 H415.8 V229.2 H418.7 V230.3 H422.7 V231.8 H425.6 V233.5 H436.0 V235.3 H438.8 V237.0 H441.2 V240.2 H500.0 V240.2" stroke="#2f5fae" fill="none" stroke-width="1.1" />
<line x1="446" y1="238.6" x2="446" y2="240.5" stroke="#2f5fae" stroke-width="0.6" />
<line x1="450.86" y1="238.6" x2="450.86" y2="240.5" stroke="#2f5fae" stroke-width="0.6" />
<line x1="455.47" y1="238.6" x2="455.47" y2="240.5" stroke="#2f5fae" stroke-width="0.6" />
<line x1="460.54" y1="238.6" x2="460.54" y2="240.5" stroke="#2f5fae" stroke-width="0.6" />
<line x1="464.52" y1="238.6" x2="464.52" y2="240.5" stroke="#2f5fae" stroke-width="0.6" />
<line x1="466.78" y1="238.6" x2="466.78" y2="240.5" stroke="#2f5fae" stroke-width="0.6" />
<line x1="471.4" y1="238.6" x2="471.4" y2="240.5" stroke="#2f5fae" stroke-width="0.6" />
<line x1="476.38" y1="238.6" x2="476.38" y2="240.5" stroke="#2f5fae" stroke-width="0.6" />
<line x1="481.16" y1="238.6" x2="481.16" y2="240.5" stroke="#2f5fae" stroke-width="0.6" />
<line x1="484.79" y1="238.6" x2="484.79" y2="240.5" stroke="#2f5fae" stroke-width="0.6" />
<line x1="488.92" y1="238.6" x2="488.92" y2="240.5" stroke="#2f5fae" stroke-width="0.6" />
<line x1="491.34" y1="238.6" x2="491.34" y2="240.5" stroke="#2f5fae" stroke-width="0.6" />
<line x1="495.87" y1="238.6" x2="495.87" y2="240.5" stroke="#2f5fae" stroke-width="0.6" />
<line x1="423.0" y1="250.7" x2="423.0" y2="252.39999999999998" stroke="#c3a77b" stroke-width="0.55" />
<line x1="474.2" y1="281.8" x2="474.2" y2="283.5" stroke="#c3a77b" stroke-width="0.55" />
<line x1="317.4" y1="322.6" x2="321.2" y2="322.6" stroke="#1c1c1c" stroke-width="1.1" />
<text transform="translate(315.50,325.30) scale(1.0000,1.0800)" font-size="7.4" text-anchor="end" fill="#1a1a1a" stroke="#1a1a1a" stroke-width="0.080" >0</text>
<line x1="317.4" y1="312.12" x2="321.2" y2="312.12" stroke="#1c1c1c" stroke-width="1.1" />
<text transform="translate(315.50,314.82) scale(1.0000,1.0800)" font-size="7.4" text-anchor="end" fill="#1a1a1a" stroke="#1a1a1a" stroke-width="0.080" >10</text>
<line x1="317.4" y1="301.64" x2="321.2" y2="301.64" stroke="#1c1c1c" stroke-width="1.1" />
<text transform="translate(315.50,304.34) scale(1.0000,1.0800)" font-size="7.4" text-anchor="end" fill="#1a1a1a" stroke="#1a1a1a" stroke-width="0.080" >20</text>
<line x1="317.4" y1="291.16" x2="321.2" y2="291.16" stroke="#1c1c1c" stroke-width="1.1" />
<text transform="translate(315.50,293.86) scale(1.0000,1.0800)" font-size="7.4" text-anchor="end" fill="#1a1a1a" stroke="#1a1a1a" stroke-width="0.080" >30</text>
<line x1="317.4" y1="280.68" x2="321.2" y2="280.68" stroke="#1c1c1c" stroke-width="1.1" />
<text transform="translate(315.50,283.38) scale(1.0000,1.0800)" font-size="7.4" text-anchor="end" fill="#1a1a1a" stroke="#1a1a1a" stroke-width="0.080" >40</text>
<line x1="317.4" y1="270.2" x2="321.2" y2="270.2" stroke="#1c1c1c" stroke-width="1.1" />
<text transform="translate(315.50,272.90) scale(1.0000,1.0800)" font-size="7.4" text-anchor="end" fill="#1a1a1a" stroke="#1a1a1a" stroke-width="0.080" >50</text>
<line x1="317.4" y1="259.72" x2="321.2" y2="259.72" stroke="#1c1c1c" stroke-width="1.1" />
<text transform="translate(315.50,262.42) scale(1.0000,1.0800)" font-size="7.4" text-anchor="end" fill="#1a1a1a" stroke="#1a1a1a" stroke-width="0.080" >60</text>
<line x1="317.4" y1="249.24" x2="321.2" y2="249.24" stroke="#1c1c1c" stroke-width="1.1" />
<text transform="translate(315.50,251.94) scale(1.0000,1.0800)" font-size="7.4" text-anchor="end" fill="#1a1a1a" stroke="#1a1a1a" stroke-width="0.080" >70</text>
<line x1="317.4" y1="238.76" x2="321.2" y2="238.76" stroke="#1c1c1c" stroke-width="1.1" />
<text transform="translate(315.50,241.46) scale(1.0000,1.0800)" font-size="7.4" text-anchor="end" fill="#1a1a1a" stroke="#1a1a1a" stroke-width="0.080" >80</text>
<line x1="317.4" y1="228.28" x2="321.2" y2="228.28" stroke="#1c1c1c" stroke-width="1.1" />
<text transform="translate(315.50,230.98) scale(1.0000,1.0800)" font-size="7.4" text-anchor="end" fill="#1a1a1a" stroke="#1a1a1a" stroke-width="0.080" >90</text>
<line x1="317.4" y1="217.8" x2="321.2" y2="217.8" stroke="#1c1c1c" stroke-width="1.1" />
<text transform="translate(315.50,220.50) scale(1.0000,1.0800)" font-size="7.4" text-anchor="end" fill="#1a1a1a" stroke="#1a1a1a" stroke-width="0.080" >100</text>
<line x1="321.2" y1="217.20000000000002" x2="321.2" y2="323.40000000000003" stroke="#1c1c1c" stroke-width="1.6" />
<line x1="320.4" y1="322.6" x2="519.0" y2="322.6" stroke="#1c1c1c" stroke-width="1.7" />
<line x1="321.2" y1="322.6" x2="321.2" y2="326.40000000000003" stroke="#1c1c1c" stroke-width="1.1" />
<text transform="translate(321.20,333.70) scale(1.0000,1.1200)" font-size="7.4" text-anchor="middle" fill="#1a1a1a" stroke="#1a1a1a" stroke-width="0.080" >0</text>
<line x1="350.72" y1="322.6" x2="350.72" y2="324.90000000000003" stroke="#1c1c1c" stroke-width="1.1" />
<line x1="380.24" y1="322.6" x2="380.24" y2="326.40000000000003" stroke="#1c1c1c" stroke-width="1.1" />
<text transform="translate(380.24,333.70) scale(1.0000,1.1200)" font-size="7.4" text-anchor="middle" fill="#1a1a1a" stroke="#1a1a1a" stroke-width="0.080" >12</text>
<line x1="409.76" y1="322.6" x2="409.76" y2="324.90000000000003" stroke="#1c1c1c" stroke-width="1.1" />
<line x1="439.28" y1="322.6" x2="439.28" y2="326.40000000000003" stroke="#1c1c1c" stroke-width="1.1" />
<text transform="translate(439.28,333.70) scale(1.0000,1.1200)" font-size="7.4" text-anchor="middle" fill="#1a1a1a" stroke="#1a1a1a" stroke-width="0.080" >24</text>
<line x1="468.8" y1="322.6" x2="468.8" y2="324.90000000000003" stroke="#1c1c1c" stroke-width="1.1" />
<line x1="498.32" y1="322.6" x2="498.32" y2="326.40000000000003" stroke="#1c1c1c" stroke-width="1.1" />
<text transform="translate(498.32,333.70) scale(1.0000,1.1200)" font-size="7.4" text-anchor="middle" fill="#1a1a1a" stroke="#1a1a1a" stroke-width="0.080" >36</text>
<text transform="translate(302.40,269.70) rotate(-90) scale(1.0000,1.0600)" font-size="7.6" text-anchor="middle" font-weight="bold" fill="#111" stroke="#111" stroke-width="0.080" >RFI (%)</text>
<text transform="translate(420.60,347.10) scale(1.0000,1.1500)" font-size="7.7" text-anchor="middle" fill="#1a1a1a" stroke="#1a1a1a" stroke-width="0.080" textLength="96.2" lengthAdjust="spacingAndGlyphs" >Time from surgery (months)</text>
<text transform="translate(266.20,347.10) scale(1.0000,1.1500)" font-size="7.7" fill="#1a1a1a" stroke="#1a1a1a" stroke-width="0.080" textLength="50.4" lengthAdjust="spacingAndGlyphs" >Number at risk</text>
<text transform="translate(266.20,358.50) scale(1.0000,1.1500)" font-size="7.7" fill="#3560ad" stroke="#3560ad" stroke-width="0.080" textLength="43.6" lengthAdjust="spacingAndGlyphs" >Not detected</text>
<text transform="translate(266.20,368.50) scale(1.0000,1.1500)" font-size="7.7" fill="#b89c70" stroke="#b89c70" stroke-width="0.080" textLength="31.0" lengthAdjust="spacingAndGlyphs" >Detected</text>
<text transform="translate(321.20,358.50) scale(1.0000,1.1500)" font-size="7.7" text-anchor="middle" fill="#1a1a1a" stroke="#1a1a1a" stroke-width="0.080" >66</text>
<text transform="translate(321.20,368.50) scale(1.0000,1.1500)" font-size="7.7" text-anchor="middle" fill="#1a1a1a" stroke="#1a1a1a" stroke-width="0.080" >9</text>
<text transform="translate(380.24,358.50) scale(1.0000,1.1500)" font-size="7.7" text-anchor="middle" fill="#1a1a1a" stroke="#1a1a1a" stroke-width="0.080" >61</text>
<text transform="translate(380.24,368.50) scale(1.0000,1.1500)" font-size="7.7" text-anchor="middle" fill="#1a1a1a" stroke="#1a1a1a" stroke-width="0.080" >7</text>
<text transform="translate(439.28,358.50) scale(1.0000,1.1500)" font-size="7.7" text-anchor="middle" fill="#1a1a1a" stroke="#1a1a1a" stroke-width="0.080" >49</text>
<text transform="translate(439.28,368.50) scale(1.0000,1.1500)" font-size="7.7" text-anchor="middle" fill="#1a1a1a" stroke="#1a1a1a" stroke-width="0.080" >5</text>
<text transform="translate(498.32,358.50) scale(1.0000,1.1500)" font-size="7.7" text-anchor="middle" fill="#1a1a1a" stroke="#1a1a1a" stroke-width="0.080" >1</text>
<text transform="translate(498.32,368.50) scale(1.0000,1.1500)" font-size="7.7" text-anchor="middle" fill="#1a1a1a" stroke="#1a1a1a" stroke-width="0.080" >0</text>
<text transform="translate(340.90,302.90) scale(1.0000,1.0300)" font-size="6.8" fill="#1a1a1a" stroke="#1a1a1a" stroke-width="0.080" textLength="55.2" lengthAdjust="spacingAndGlyphs" >HR for recurrence</text>
<text transform="translate(340.90,312.00) scale(1.0000,1.0300)" font-size="6.8" fill="#1a1a1a" stroke="#1a1a1a" stroke-width="0.080" textLength="82.1" lengthAdjust="spacingAndGlyphs" >3.23 (95% CI 0.72–14.47)</text>
<text transform="translate(340.90,320.30) scale(1.0000,1.0300)" font-size="6.8" fill="#1a1a1a" stroke="#1a1a1a" stroke-width="0.080" textLength="33.8" lengthAdjust="spacingAndGlyphs" ><tspan font-style="italic">P</tspan> = 0.0173</text>
</svg>
</body></html>
